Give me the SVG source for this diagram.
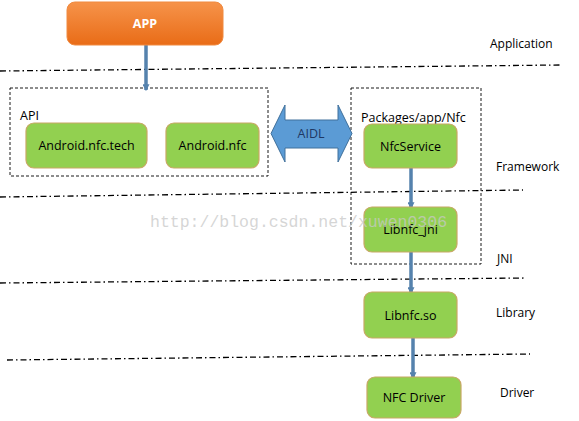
<svg xmlns="http://www.w3.org/2000/svg" width="579" height="421" viewBox="0 0 579 421">
<defs>
<linearGradient id="og" x1="0" y1="0" x2="0" y2="1">
<stop offset="0" stop-color="#f6934a"/>
<stop offset="1" stop-color="#e96c17"/>
</linearGradient>
<marker id="ah" viewBox="0 0 6 6" refX="5" refY="3" markerWidth="2" markerHeight="2" orient="auto" markerUnits="strokeWidth">
<path d="M0,0 L6,3 L0,6 z" fill="#5582ad"/>
</marker>
<style>
.sep{stroke:#000;stroke-width:1.3;stroke-dasharray:6 3 1.5 3;fill:none}
.grp{stroke:#000;stroke-width:0.9;stroke-dasharray:3 2;fill:none}
.box{fill:#92d050;stroke:#c8a865;stroke-width:1.2}
.t{font-family:"Open Sans","Liberation Sans",sans-serif;font-size:12.5px;fill:#000}
.c{text-anchor:middle}
.lbl{font-family:"Open Sans","Liberation Sans",sans-serif;font-size:12px;fill:#000}
.arr{stroke:#5582ad;stroke-width:3.5;fill:none;marker-end:url(#ah)}
</style>
</defs>
<rect width="579" height="421" fill="#fff"/>
<g id="separators">
<line class="sep" x1="0" y1="71" x2="560" y2="65"/>
<line class="sep" x1="0" y1="197" x2="523" y2="190"/>
<line class="sep" x1="0" y1="283" x2="525" y2="278"/>
<line class="sep" x1="7" y1="360" x2="530" y2="354"/>
</g>
<g id="layer-labels">
<text class="lbl" x="490" y="48">Application</text>
<text class="lbl" x="496" y="171">Framework</text>
<text class="lbl" x="497" y="263">JNI</text>
<text class="lbl" x="496" y="317">Library</text>
<text class="lbl" x="500" y="397">Driver</text>
</g>
<g id="api-group">
<rect class="grp" x="10" y="88" width="258" height="88"/>
<text class="t" x="20" y="120">API</text>
</g>
<g id="nfc-group">
<rect class="grp" x="351" y="88" width="130" height="176"/>
<text class="t" x="361" y="122">Packages/app/Nfc</text>
</g>
<g id="connectors">
<line class="arr" x1="146" y1="45" x2="146" y2="90"/>
<line class="arr" x1="411" y1="168" x2="411" y2="208"/>
<line class="arr" x1="411" y1="252" x2="411" y2="293"/>
<line class="arr" x1="413" y1="338" x2="413" y2="378"/>
</g>
<g id="app">
<rect x="67" y="2" width="156" height="43" rx="8" fill="url(#og)" stroke="#f08a40" stroke-width="1"/>
<text class="t c" x="145" y="28" fill="#fff" style="fill:#fff;font-weight:bold">APP</text>
</g>
<g id="aidl">
<path d="M271,133.5 L285,105 L285,120 L338,120 L338,105 L352,133.5 L338,162 L338,148 L285,148 L285,162 Z" fill="#5b9bd5" stroke="#41719c" stroke-width="1"/>
<text class="t c" x="311" y="138" style="fill:#1f3864">AIDL</text>
</g>
<g id="android-nfc-tech">
<rect class="box" x="26" y="123" width="121" height="45" rx="8"/>
<text class="t c" x="86.5" y="150">Android.nfc.tech</text>
</g>
<g id="android-nfc">
<rect class="box" x="166" y="123" width="93" height="45" rx="8"/>
<text class="t c" x="212.5" y="150">Android.nfc</text>
</g>
<g id="nfcservice">
<rect class="box" x="364" y="124" width="93" height="44" rx="8"/>
<text class="t c" x="410.5" y="151">NfcService</text>
</g>
<g id="libnfc-jni">
<rect class="box" x="364" y="207" width="93" height="45" rx="8"/>
<text class="t c" x="410.5" y="234">Libnfc_jni</text>
</g>
<g id="libnfc-so">
<rect class="box" x="364" y="292" width="93" height="46" rx="8"/>
<text class="t c" x="410.5" y="320">Libnfc.so</text>
</g>
<g id="nfc-driver">
<rect class="box" x="367" y="377" width="94" height="41" rx="8"/>
<text class="t c" x="414" y="402">NFC Driver</text>
</g>
<g id="watermark">
<text x="150" y="227" style="font-family:'Liberation Mono',monospace;font-size:16.5px;fill:#c8c8c8;fill-opacity:0.75">http://blog.csdn.net/xuwen0306</text>
</g>
</svg>
